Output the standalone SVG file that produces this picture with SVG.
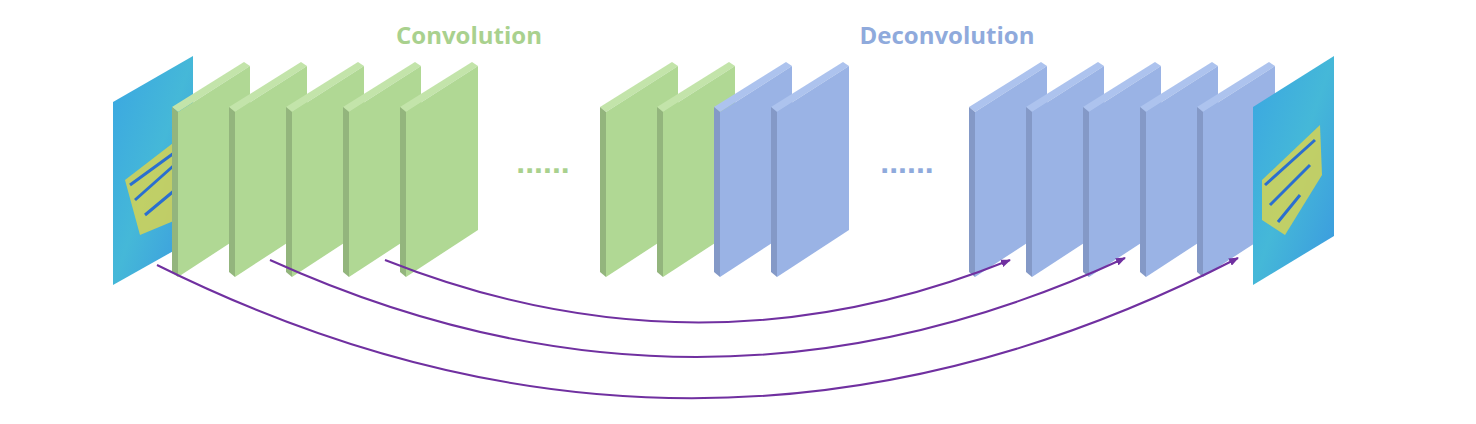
<svg xmlns="http://www.w3.org/2000/svg" width="1476" height="424" viewBox="0 0 1476 424">
<style>
.t{font-family:"Open Sans","Liberation Sans",sans-serif;font-weight:bold;font-size:24px}
.gf{fill:#b0d894}.gs{fill:#93b57d}.gt{fill:#c3e4aa}
.bf{fill:#9ab3e5}.bs{fill:#8499c7}.bt{fill:#adc3ee}
.c{fill:none;stroke:#7030a0;stroke-width:2;marker-end:url(#ah)}
.d{font-family:"Liberation Sans",sans-serif;font-size:32px;font-weight:bold}
</style>
<defs>
<marker id="ah" markerWidth="10" markerHeight="8" refX="9" refY="4" orient="auto" markerUnits="userSpaceOnUse"><path d="M0,0L10,4L0,8z" fill="#7030a0"/></marker>
<linearGradient id="img" x1="0" y1="0" x2="1" y2="1"><stop offset="0" stop-color="#3aa6e2"/><stop offset="0.5" stop-color="#45b8d8"/><stop offset="1" stop-color="#3a98e0"/></linearGradient>
<g id="slabG"><polygon class="gt" points="0,107 72,62 78,66 6,112"/><polygon class="gs" points="0,107 6,112 6,277 0,272"/><polygon class="gf" points="6,112 78,66 78,230 6,277"/></g>
<g id="slabB"><polygon class="bt" points="0,107 72,62 78,66 6,112"/><polygon class="bs" points="0,107 6,112 6,277 0,272"/><polygon class="bf" points="6,112 78,66 78,230 6,277"/></g>
</defs>
<rect width="1476" height="424" fill="#fff"/>
<text class="t" x="469" y="44" text-anchor="middle" fill="#a9d18e">Convolution</text>
<text class="t" x="947" y="44" text-anchor="middle" fill="#8faadc">Deconvolution</text>
<g id="input"><polygon points="113,102 193,56 193,240 113,285" fill="url(#img)"/>
<path d="M125,180 L190,130 L188,215 L140,235 Z" fill="#e0d64a" opacity="0.8"/>
<path d="M130,185 L185,145 M135,200 L180,160 M145,215 L175,190" stroke="#2a6fd0" stroke-width="3" fill="none"/></g>
<g id="conv1"><use href="#slabG" x="172"/></g>
<g id="conv2"><use href="#slabG" x="229"/></g>
<g id="conv3"><use href="#slabG" x="286"/></g>
<g id="conv4"><use href="#slabG" x="343"/></g>
<g id="conv5"><use href="#slabG" x="400"/></g>
<text class="d" x="543" y="173" text-anchor="middle" fill="#a9d18e">......</text>
<g id="conv6"><use href="#slabG" x="600"/></g>
<g id="conv7"><use href="#slabG" x="657"/></g>
<g id="deconv1"><use href="#slabB" x="714"/></g>
<g id="deconv2"><use href="#slabB" x="771"/></g>
<text class="d" x="907" y="173" text-anchor="middle" fill="#8faadc">......</text>
<g id="deconv3"><use href="#slabB" x="969"/></g>
<g id="deconv4"><use href="#slabB" x="1026"/></g>
<g id="deconv5"><use href="#slabB" x="1083"/></g>
<g id="deconv6"><use href="#slabB" x="1140"/></g>
<g id="deconv7"><use href="#slabB" x="1197"/></g>
<g id="output"><polygon points="1253,107 1334,56 1334,236 1253,285" fill="url(#img)"/>
<path d="M1262,180 L1320,125 L1322,175 L1285,235 L1262,220 Z" fill="#e0d64a" opacity="0.8"/>
<path d="M1265,185 L1315,140 M1270,205 L1310,165 M1278,222 L1300,195" stroke="#2a6fd0" stroke-width="3" fill="none"/></g>
<g id="connectors">
<path class="c" d="M385,260 Q700,385 1010,260"/>
<path class="c" d="M270,260 Q700,455 1125,258"/>
<path class="c" d="M157,265 Q700,535 1238,258"/>
</g>
</svg>
